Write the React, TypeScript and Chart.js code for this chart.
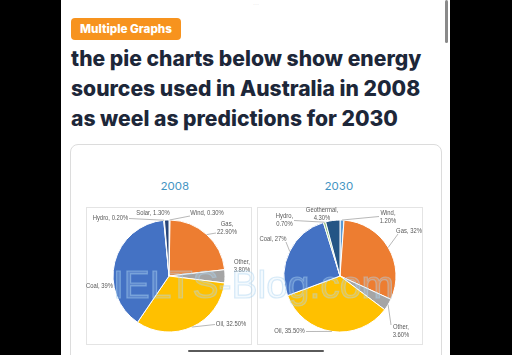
import React, { useEffect, useRef } from 'react';
import { Chart, registerables } from 'chart.js';

Chart.register(...registerables);

// ---- data ----
const chartTitles = ['2008', '2030'];
const categories2008 = ['Wind', 'Gas', 'Other', 'Oil', 'Coal', 'Hydro', 'Solar'];
const values2008 = [0.3, 22.9, 3.8, 32.5, 39, 0.2, 1.3];
const categories2030 = ['Wind', 'Gas', 'Other', 'Oil', 'Coal', 'Hydro', 'Geothermal'];
const values2030 = [1.2, 32, 3.6, 35.5, 27, 0.7, 4.3];

const headline = ['the pie charts below show energy', 'sources used in Australia in 2008', 'as weel as predictions for 2030'];
const badgeText = 'Multiple Graphs';
const watermarkText = 'IELTS-Blog.com';

// ---- styles ----
const colors2008 = ['#5B9BD5', '#ED7D31', '#A5A5A5', '#FFC000', '#4472C4', '#8FBF7A', '#264478'];
const colors2030 = ['#5B9BD5', '#ED7D31', '#A5A5A5', '#FFC000', '#4472C4', '#8FBF7A', '#245585'];

type LabelPos = { x: number; y: number; split: boolean; from?: [number, number] };

const layout2008: LabelPos[] = [
  { x: 121, y: 6.5, split: false, from: [104, 9] },
  { x: 141, y: 21.3, split: true, from: [130, 26] },
  { x: 156, y: 59, split: true },
  { x: 145, y: 117, split: false, from: [129, 117.5] },
  { x: 13.5, y: 79, split: false },
  { x: 24.5, y: 11, split: false, from: [43, 11.5] },
  { x: 67, y: 6, split: false },
];

const layout2030: LabelPos[] = [
  { x: 131, y: 10, split: true, from: [122, 9.5] },
  { x: 152, y: 24.5, split: false, from: [141, 27] },
  { x: 144, y: 124, split: true, from: [134, 118] },
  { x: 32.5, y: 124, split: false, from: [49, 124.5] },
  { x: 16, y: 32, split: false, from: [29, 35] },
  { x: 27.5, y: 13, split: true, from: [37, 13.5] },
  { x: 65, y: 7, split: true },
];

const fmt = (v: number) => (Number.isInteger(v) ? `${v}%` : `${v.toFixed(2)}%`);

function drawNarrow(ctx: CanvasRenderingContext2D, text: string, x: number, y: number) {
  ctx.save();
  ctx.translate(x, y);
  ctx.scale(0.84, 1);
  ctx.fillText(text, 0, 0);
  ctx.restore();
}

function labelPlugin(layout: LabelPos[], cats: string[], vals: number[]) {
  return {
    id: 'outerLabels',
    afterDatasetsDraw(chart: any) {
      const ctx = chart.ctx as CanvasRenderingContext2D;
      const meta = chart.getDatasetMeta(0);
      ctx.save();
      ctx.strokeStyle = '#a6a6a6';
      ctx.lineWidth = 0.8;
      meta.data.forEach((arc: any, i: number) => {
        const p = layout[i];
        if (!p || !p.from) return;
        const mid = (arc.startAngle + arc.endAngle) / 2;
        const ex = arc.x + Math.cos(mid) * arc.outerRadius;
        const ey = arc.y + Math.sin(mid) * arc.outerRadius;
        ctx.beginPath();
        ctx.moveTo(p.from[0], p.from[1]);
        ctx.lineTo(ex, ey);
        ctx.stroke();
      });
      ctx.fillStyle = '#595959';
      ctx.font = '7px "Liberation Sans", Arial, sans-serif';
      ctx.textAlign = 'center';
      ctx.textBaseline = 'middle';
      cats.forEach((c, i) => {
        const p = layout[i];
        if (!p) return;
        if (p.split) {
          drawNarrow(ctx, `${c},`, p.x, p.y - 4);
          drawNarrow(ctx, fmt(vals[i]), p.x, p.y + 4);
        } else {
          drawNarrow(ctx, `${c}, ${fmt(vals[i])}`, p.x, p.y);
        }
      });
      ctx.restore();
    },
  };
}

function PieBox(props: { left: number; cats: string[]; vals: number[]; colors: string[]; layout: LabelPos[] }) {
  const ref = useRef<HTMLCanvasElement>(null);
  useEffect(() => {
    const chart = new Chart(ref.current!, {
      type: 'pie',
      data: {
        labels: props.cats,
        datasets: [{ data: props.vals, backgroundColor: props.colors, borderColor: '#ffffff', borderWidth: 1 }],
      },
      options: {
        responsive: false,
        animation: false,
        layout: { padding: { top: 12.5, bottom: 12.5, left: 26.5, right: 26.5 } },
        plugins: { legend: { display: false }, tooltip: { enabled: false } },
      },
      plugins: [labelPlugin(props.layout, props.cats, props.vals)],
    } as any);
    return () => chart.destroy();
  }, []);
  return (
    <>
      <div
        style={{
          position: 'absolute', left: props.left, top: 207, width: 166, height: 138,
          border: '1px solid #e4e4e4', boxSizing: 'border-box', background: '#fff',
        }}
      />
      <canvas
        ref={ref}
        width={166}
        height={138}
        style={{ position: 'absolute', left: props.left, top: 207, width: 166, height: 138 }}
      />
    </>
  );
}

export default function App() {
  return (
    <div style={{ position: 'fixed', left: 0, top: 0, width: 512, height: 355, background: '#000', overflow: 'hidden' }}>
      <div style={{ position: 'absolute', left: 61, top: 0, width: 389, height: 355, background: '#fff' }} />
      <div style={{ position: 'absolute', left: 445, top: 0, width: 3, height: 43, background: '#8a8a8a', borderRadius: 2 }} />
      <div style={{ position: 'absolute', left: 250, top: 4, width: 12, height: 2, color: '#ddd', fontSize: 6, lineHeight: '2px', textAlign: 'center' }}>···</div>
      <div
        style={{
          position: 'absolute', left: 71, top: 18, width: 110, height: 22, background: '#F7931E', borderRadius: 4,
          color: '#fff', fontFamily: 'Inter, "Noto Sans", sans-serif', fontWeight: 800, fontSize: 11.7,
          display: 'flex', alignItems: 'center', justifyContent: 'center',
        }}
      >
        {badgeText}
      </div>
      <div
        style={{
          position: 'absolute', left: 71, top: 44, width: 380, fontFamily: 'Inter, "Noto Sans", sans-serif',
          fontWeight: 800, fontSize: 21.1, lineHeight: '30px', color: '#1d2739', whiteSpace: 'nowrap',
        }}
      >
        {headline.map((l, i) => (
          <div key={i}>{l}</div>
        ))}
      </div>
      <div
        style={{
          position: 'absolute', left: 70, top: 144, width: 372, height: 240, border: '1px solid #dcdcdc',
          borderRadius: 8, boxSizing: 'border-box',
        }}
      />
      {chartTitles.map((t, i) => (
        <div
          key={t}
          style={{
            position: 'absolute', left: i === 0 ? 145 : 309, top: 178.5, width: 60, textAlign: 'center',
            fontFamily: 'Lato, "Open Sans", sans-serif', fontSize: 11.5, lineHeight: '14px', color: '#3f93c2',
            letterSpacing: 0.5,
          }}
        >
          {t}
        </div>
      ))}
      <PieBox left={86} cats={categories2008} vals={values2008} colors={colors2008} layout={layout2008} />
      <PieBox left={257} cats={categories2030} vals={values2030} colors={colors2030} layout={layout2030} />
      <div
        style={{
          position: 'absolute', left: 113, top: 265, fontFamily: '"Liberation Sans", Arial, sans-serif', fontSize: 39,
          lineHeight: '39px', color: 'rgba(200,228,248,0.2)', WebkitTextStroke: '1.2px rgba(170,210,240,0.45)',
          whiteSpace: 'nowrap', pointerEvents: 'none',
        } as any}
      >
        {watermarkText}
      </div>
      <div style={{ position: 'absolute', left: 188, top: 349.5, width: 136, height: 2.5, background: '#5a5a5a', borderRadius: 1 }} />
    </div>
  );
}
